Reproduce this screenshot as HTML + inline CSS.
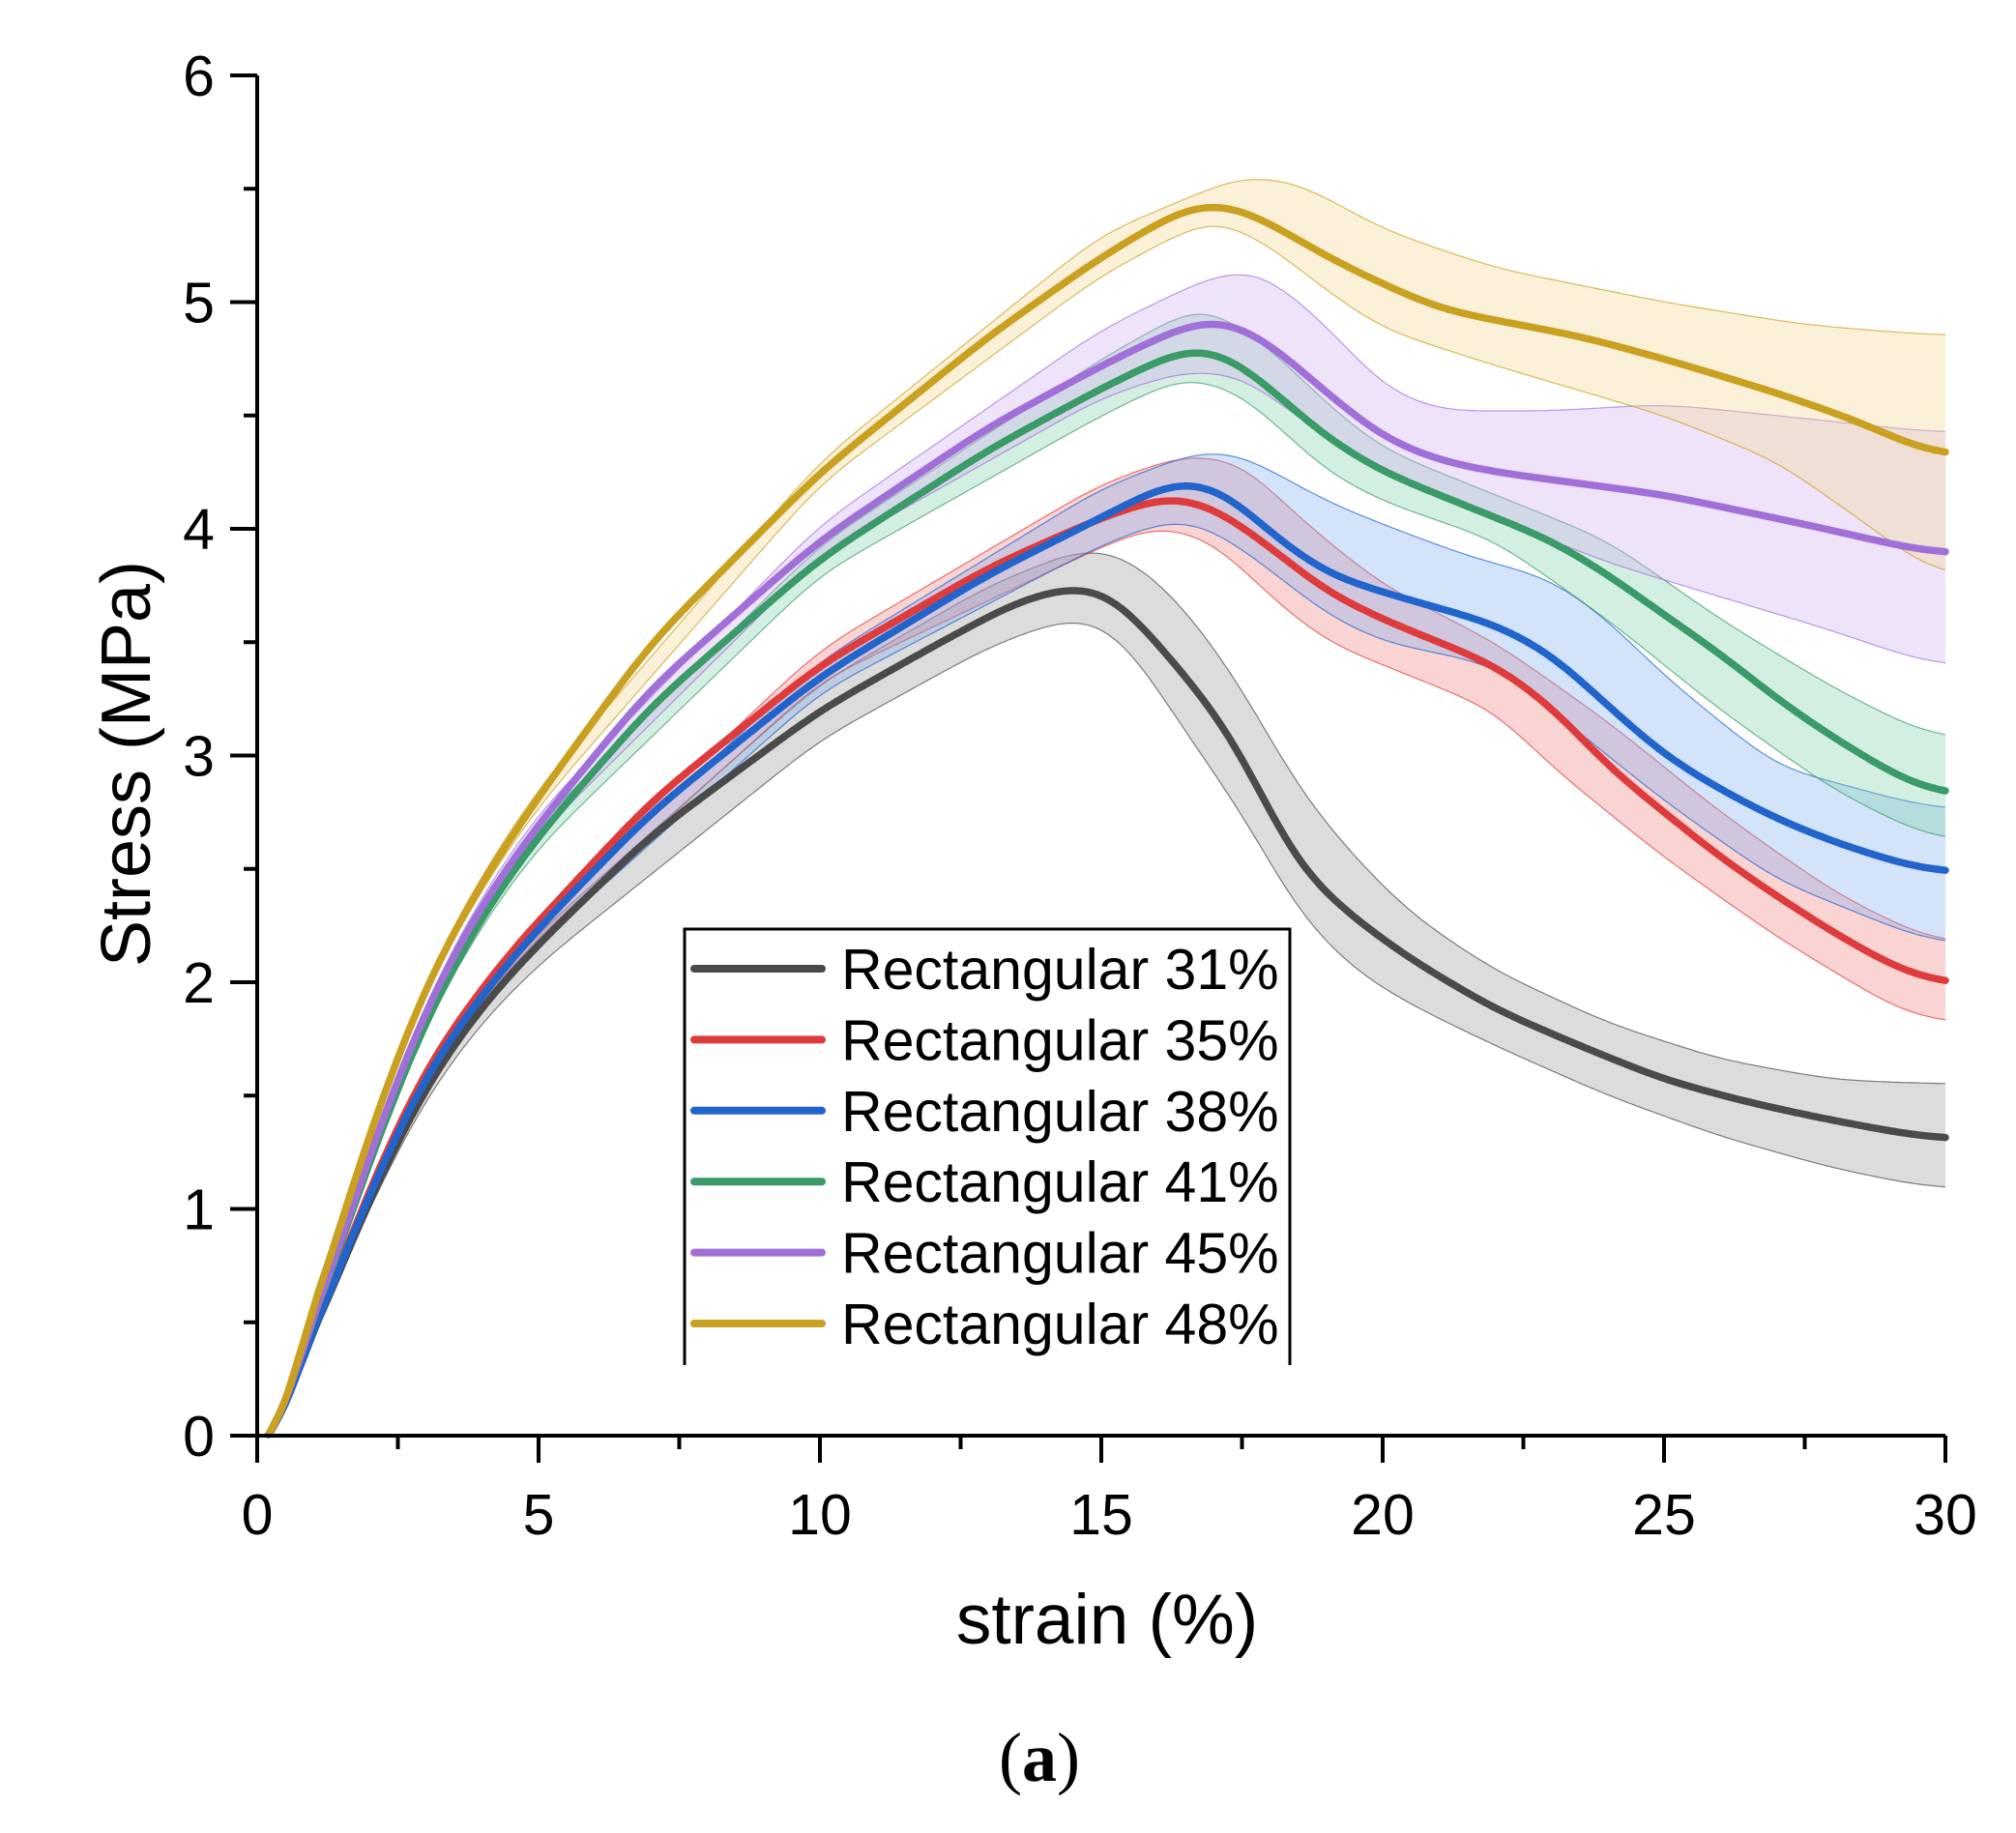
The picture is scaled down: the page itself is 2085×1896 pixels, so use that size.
<!DOCTYPE html>
<html><head><meta charset="utf-8"><style>
html,body{margin:0;padding:0;background:#fff;}
svg{display:block;}
text{font-family:"Liberation Sans",Arial,sans-serif;fill:#000;}
</style></head><body>
<svg id="s" width="2085" height="1896" viewBox="0 0 2085 1896" xmlns="http://www.w3.org/2000/svg">
<g id="bands"></g>
<g id="lines"></g>
<g id="axes" stroke="#000" stroke-width="4" fill="none"></g>
<g id="labels" font-size="59"></g>
<g id="legend"></g>
<text x="1145" y="1700" font-size="73" text-anchor="middle">strain (%)</text>
<text transform="translate(155,790) rotate(-90)" font-size="72" text-anchor="middle">Stress (MPa)</text>
<text x="1075" y="1842" font-size="72" text-anchor="middle" style="font-family:'Liberation Serif',serif">(<tspan font-weight="bold">a</tspan>)</text>
</svg>
<script>
const X0=266,X1=2012,Y0=1485,Y6=78;
const sx=x=>X0+(X1-X0)*x/30, sy=y=>Y0-(Y0-Y6)*y/6;
function lin(pts,x){for(let i=0;i<pts.length-1;i++){if(x<=pts[i+1][0]){const t=(x-pts[i][0])/(pts[i+1][0]-pts[i][0]);return pts[i][1]+t*(pts[i+1][1]-pts[i][1]);}}return pts[pts.length-1][1];}
function smoothF(f){const dx=0.05,xs=[],ys=[];for(let x=0.2;x<=30.0001;x+=dx){xs.push(x);ys.push(f(x));}
const out=[];const sig=0.45;
for(let i=0;i<xs.length;i++){const s=Math.min(sig,Math.max(0.03,(xs[i]-0.2)*0.5));const ww=Math.ceil(3*s/dx);let a=0,b=0;
for(let j=-ww;j<=ww;j++){const k=i+j;if(k<0||k>=xs.length)continue;const g=Math.exp(-0.5*(j*dx/s)**2);a+=g*ys[k];b+=g;}
out.push([xs[i],a/b]);}return out;}
function pd(pts,move=true){return pts.map((p,i)=>(i==0&&move?"M":"L")+sx(p[0]).toFixed(1)+" "+sy(p[1]).toFixed(1)).join("");}
const S=[
{c:"#4a4a4a",f:"#9a9a9a",m:[[0.2,0],[0.6,0.18],[1,0.45],[2,1.05],[3,1.55],[4,1.9],[5,2.17],[7,2.65],[10,3.2],[12,3.48],[13.5,3.68],[14.5,3.75],[15.2,3.72],[15.8,3.55],[16.5,3.35],[17.3,3.1],[18,2.75],[18.5,2.5],[19.5,2.28],[20.5,2.1],[22,1.88],[23.5,1.72],[25,1.57],[26.5,1.47],[28,1.39],[30,1.3]],
u:[[0.2,0],[5,2.22],[10,3.32],[13,3.75],[14.7,3.92],[15.5,3.88],[16.5,3.65],[17.5,3.3],[18.5,2.85],[19.5,2.55],[20.5,2.3],[22,2.05],[24,1.82],[26,1.66],[28,1.57],[30,1.55]],
l:[[0.2,0],[5,2.08],[10,3.07],[13,3.48],[14.3,3.6],[15,3.6],[15.6,3.45],[16.5,3.1],[17.5,2.75],[18.5,2.3],[19.5,2.05],[20.5,1.9],[22,1.72],[24,1.5],[26,1.32],[28,1.18],[30,1.08]]},
{c:"#de3c3c",f:"#f08080",m:[[0.2,0],[0.6,0.18],[1,0.45],[2,1.1],[3,1.63],[4,1.98],[5,2.27],[7,2.8],[10,3.4],[13,3.83],[15,4.05],[16.2,4.15],[17,4.1],[18,3.92],[19,3.72],[20,3.6],[21,3.5],[22,3.4],[23,3.22],[24,2.95],[25,2.75],[26,2.55],[27,2.38],[28,2.22],[29,2.08],[30,1.97]],
u:[[0.2,0],[5,2.3],[10,3.47],[15,4.2],[16.5,4.33],[17.5,4.3],[18.5,4.05],[20,3.75],[22,3.5],[24,3.15],[26,2.75],[28,2.4],[30,2.15]],
l:[[0.2,0],[5,2.2],[10,3.33],[15,3.92],[16,4.02],[17,3.95],[18,3.7],[19,3.5],[20,3.4],[22,3.2],[23,2.95],[25,2.55],[27,2.2],[29,1.9],[30,1.8]]},
{c:"#2064cc",f:"#80aef0",m:[[0.2,0],[0.6,0.18],[1,0.45],[2,1.08],[3,1.6],[4,1.95],[5,2.24],[7,2.75],[10,3.35],[13,3.8],[15,4.05],[16,4.18],[16.6,4.22],[17.3,4.15],[18,3.98],[19,3.8],[20,3.72],[21,3.65],[22,3.58],[23,3.45],[24,3.22],[25,3.0],[26,2.85],[27,2.72],[28,2.62],[29,2.54],[30,2.47]],
u:[[0.2,0],[5,2.27],[10,3.42],[15,4.18],[16.8,4.35],[17.5,4.33],[19,4.12],[20,4.02],[21.5,3.88],[23,3.78],[24,3.6],[25,3.35],[27,2.95],[30,2.75]],
l:[[0.2,0],[5,2.17],[10,3.28],[15,3.93],[16.3,4.05],[17,4.0],[18,3.82],[19,3.62],[20,3.5],[22,3.4],[23,3.2],[25,2.8],[27,2.45],[30,2.15]]},
{c:"#3a9a68",f:"#80d0a8",m:[[0.2,0],[0.6,0.2],[1,0.5],[2,1.22],[3,1.85],[4,2.3],[5,2.65],[7,3.22],[10,3.87],[13,4.35],[15,4.62],[16.5,4.8],[17.2,4.78],[18,4.62],[19,4.4],[20,4.25],[21,4.15],[22,4.05],[23,3.95],[24,3.8],[25,3.62],[26,3.45],[27,3.25],[28,3.08],[29,2.93],[30,2.8]],
u:[[0.2,0],[5,2.7],[10,3.93],[15,4.75],[16.8,5.0],[18,4.8],[19,4.55],[20,4.35],[22,4.15],[24,3.95],[26,3.6],[28,3.3],[30,3.05]],
l:[[0.2,0],[5,2.6],[10,3.8],[15,4.5],[16.5,4.68],[17.5,4.6],[19,4.25],[20,4.12],[22,3.95],[24,3.6],[26,3.2],[28,2.85],[30,2.6]]},
{c:"#a070d8",f:"#d0b0f0",m:[[0.2,0],[0.6,0.2],[1,0.5],[2,1.25],[3,1.9],[4,2.35],[5,2.7],[7,3.3],[10,3.95],[13,4.45],[15,4.72],[16.5,4.9],[17.2,4.93],[18,4.82],[19,4.6],[20,4.4],[21,4.3],[22,4.25],[25,4.15],[27.5,4.02],[30,3.88]],
u:[[0.2,0],[5,2.75],[10,4.02],[15,4.88],[17,5.12],[17.8,5.15],[19,4.9],[20,4.62],[21,4.52],[23,4.52],[25,4.55],[27,4.5],[30,4.42]],
l:[[0.2,0],[5,2.65],[10,3.88],[15,4.58],[16.5,4.7],[17.5,4.68],[19,4.4],[20,4.25],[22,4.05],[24,3.85],[26,3.7],[28,3.55],[30,3.38]]},
{c:"#c9a020",f:"#f0d890",m:[[0.2,0],[0.6,0.2],[1,0.55],[2,1.35],[3,2.0],[4,2.45],[5,2.82],[7,3.5],[10,4.25],[13,4.85],[15,5.2],[16.5,5.42],[17.2,5.44],[18,5.35],[19,5.2],[20,5.08],[21,4.97],[22,4.92],[23.5,4.85],[25,4.75],[27,4.6],[28.5,4.47],[30,4.3]],
u:[[0.2,0],[5,2.86],[10,4.3],[15,5.3],[17.5,5.56],[18.5,5.53],[20,5.32],[22,5.15],[25,5.0],[27.5,4.9],[30,4.85]],
l:[[0.2,0],[5,2.78],[10,4.2],[15,5.12],[17,5.38],[18,5.25],[19,5.05],[20,4.88],[22,4.72],[25,4.5],[27,4.3],[29,3.95],[30,3.75]]}
];
const NS="http://www.w3.org/2000/svg";
function el(t,a,p){const e=document.createElementNS(NS,t);for(const k in a)e.setAttribute(k,a[k]);p.appendChild(e);return e;}
const B=document.getElementById("bands"),L=document.getElementById("lines");
function edge(s,arr){const m5=lin(s.m,5),e5=lin(arr,5);
 return x=>x<5?lin(s.m,x)+(e5-m5)*(x-0.2)/4.8:lin(arr,x);}
S.forEach(s=>{
 const u=smoothF(edge(s,s.u)),l=smoothF(edge(s,s.l));
 el("path",{d:pd(u)+pd(l.slice().reverse(),false)+"Z",fill:s.f,"fill-opacity":"0.35",stroke:"none"},B);
 el("path",{d:pd(u),fill:"none",stroke:s.c,"stroke-width":"1.2","stroke-opacity":"0.7"},B);
 el("path",{d:pd(l),fill:"none",stroke:s.c,"stroke-width":"1.2","stroke-opacity":"0.7"},B);
});
S.forEach(s=>el("path",{d:pd(smoothF(x=>lin(s.m,x))),fill:"none",stroke:s.c,"stroke-width":"7.5","stroke-linecap":"round","stroke-linejoin":"round"},L));
const A=document.getElementById("axes"),T=document.getElementById("labels");
el("path",{d:`M${X0} ${Y6}V${Y0}H${X1}`},A);
for(let i=0;i<=12;i++){const x=sx(i*2.5);el("path",{d:`M${x} ${Y0}v${i%2?14:28}`},A);
 if(i%2==0){const t=el("text",{x:x,y:1587,"text-anchor":"middle"},T);t.textContent=i*2.5;}}
for(let i=0;i<=12;i++){const y=sy(i*0.5);el("path",{d:`M${X0} ${y}h${i%2?-14:-28}`},A);
 if(i%2==0){const t=el("text",{x:222,y:y+21,"text-anchor":"end"},T);t.textContent=i/2;}}
const G=document.getElementById("legend");
el("path",{d:"M708 1412V961H1334V1412",fill:"#fff",stroke:"#000","stroke-width":"3"},G);
const names=["31","35","38","41","45","48"];
S.forEach((s,i)=>{const y=1002+i*73.4;
 el("line",{x1:718,x2:850,y1:y,y2:y,stroke:s.c,"stroke-width":"8","stroke-linecap":"round"},G);
 const t=el("text",{x:870,y:y+21,"font-size":"59"},G);t.textContent="Rectangular "+names[i]+"%";});
</script>
</body></html>
